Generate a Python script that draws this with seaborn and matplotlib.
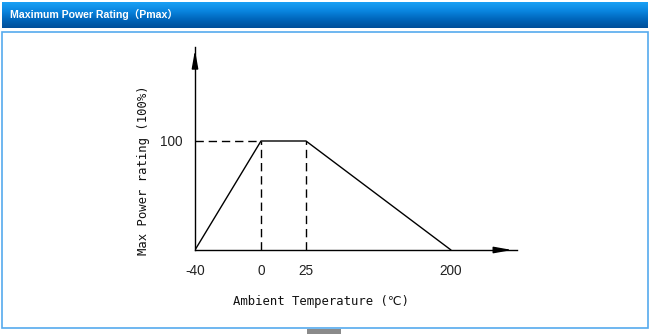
import numpy as np
import matplotlib
matplotlib.use("Agg")
import matplotlib.pyplot as plt
import seaborn as sns
from matplotlib.colors import LinearSegmentedColormap
from matplotlib.patches import Rectangle

# ---- data ----
temps = [-40, 0, 25, 200]          # ambient temperature (°C)
ratings = [0, 100, 100, 0]         # max power rating (%)
x_tick_labels = ["-40", "0", "25", "200"]
y_ticks = [100]
y_tick_labels = ["100"]
title = "Maximum Power Rating（Pmax）"
xlabel = "Ambient Temperature (℃)"
ylabel = "Max Power rating (100%)"

sns.set_theme(style="white")
plt.rcParams["font.family"] = ["DejaVu Sans", "Noto Sans CJK SC"]

W, H = 650, 334
fig = plt.figure(figsize=(W / 100, H / 100), dpi=100)
fig.patch.set_facecolor("white")

# ---- header bar (gradient) ----
hax = fig.add_axes([2 / W, (H - 28) / H, 646 / W, 26 / H])
grad = np.linspace(0, 1, 64).reshape(-1, 1)
cmap = LinearSegmentedColormap.from_list("hdr", ["#1aa0f5", "#0a86e0", "#0066bb", "#004f99"])
hax.imshow(grad, aspect="auto", cmap=cmap, extent=[0, 1, 0, 1])
hax.set_axis_off()
hax.text(0.012, 0.52, title, color="white", fontweight="bold", fontsize=7.6,
         va="center", ha="left", transform=hax.transAxes,
         family=["Liberation Sans", "Noto Sans CJK SC"])

# ---- content box ----
fig.patches.append(Rectangle((1.5 / W, (H - 328) / H), 646.5 / W, 296 / H,
                             transform=fig.transFigure, fill=False,
                             edgecolor="#55aaee", lw=1.2))
fig.patches.append(Rectangle((307 / W, 0), 34 / W, 5 / H, transform=fig.transFigure,
                             facecolor="#8a8a8a", edgecolor="none"))

# ---- main axes ----
left_px, right_px, base_px, top_px = 195, 517, 250, 47
ax = fig.add_axes([left_px / W, (H - base_px) / H, (right_px - left_px) / W,
                   (base_px - top_px) / H])
ax.set_facecolor("none")

# piecewise-linear schematic x scale
bp_t = np.array([-100, -40, 0, 25, 200, 400], dtype=float)
bp_p = np.array([-99, 0, 66, 111, 256, 421.7], dtype=float)
fwd = lambda v: np.interp(v, bp_t, bp_p)
inv = lambda v: np.interp(v, bp_p, bp_t)
ax.set_xscale("function", functions=(fwd, inv))

sns.lineplot(x=temps, y=ratings, ax=ax, color="black", lw=1.0, sort=False,
             estimator=None)

dash = (0, (6, 3.5))
ax.plot([temps[0], temps[1]], [ratings[1], ratings[1]], color="black", lw=1.0, ls=dash)
ax.plot([temps[1], temps[1]], [0, ratings[1]], color="black", lw=1.0, ls=dash)
ax.plot([temps[2], temps[2]], [0, ratings[2]], color="black", lw=1.0, ls=dash)

ax.set_xlim(-40, 279.7)
ax.set_ylim(0, (base_px - top_px) / 109 * 100)

for s in ["top", "right"]:
    ax.spines[s].set_visible(False)
for s in ["left", "bottom"]:
    ax.spines[s].set_color("black")
    ax.spines[s].set_linewidth(1.0)

ax.set_xticks(temps)
ax.set_xticklabels(x_tick_labels, family="Liberation Sans", fontsize=9.8, color="#222222")
ax.set_yticks(y_ticks)
ax.set_yticklabels(y_tick_labels, family="Liberation Sans", fontsize=9.8, color="#222222")
ax.tick_params(axis="x", length=0, pad=10)
ax.tick_params(axis="y", length=0, pad=9)
ax.grid(False)

# arrow heads
ax.annotate("", xy=(0, 0.985), xytext=(0, 0.92), xycoords="axes fraction",
            arrowprops=dict(arrowstyle="-|>,head_length=0.9,head_width=0.16",
                            color="black", lw=1.0, shrinkA=0, shrinkB=0))
ax.annotate("", xy=(0.985, 0), xytext=(0.94, 0), xycoords="axes fraction",
            arrowprops=dict(arrowstyle="-|>,head_length=0.9,head_width=0.16",
                            color="black", lw=1.0, shrinkA=0, shrinkB=0))

fig.text(321 / W, (H - 302) / H, xlabel, ha="center", va="center", fontsize=8.8,
         family=["DejaVu Sans Mono", "DejaVu Sans"], color="#111111")
fig.text(143 / W, (H - 170) / H, ylabel, ha="center", va="center", fontsize=8.8,
         rotation=90, family=["DejaVu Sans Mono", "DejaVu Sans"], color="#111111")

fig.savefig("out.png", dpi=100)
